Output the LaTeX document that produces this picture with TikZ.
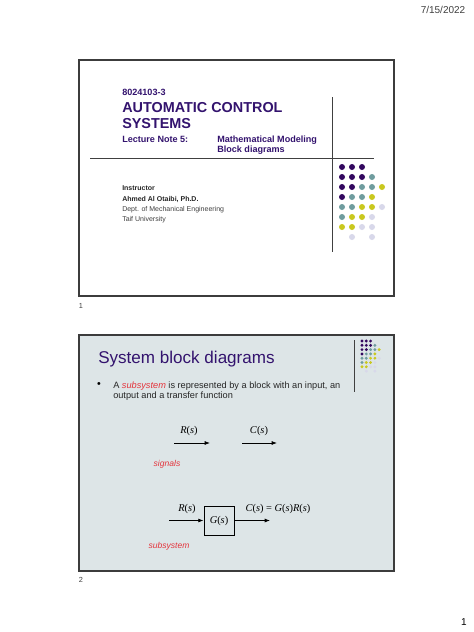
\documentclass[tikz,border=0pt]{standalone}
\usepackage{fontspec}
\setmainfont{Liberation Sans}
\newfontfamily\timesfont{Liberation Serif}
\usetikzlibrary{arrows.meta}

\definecolor{slidepurple}{HTML}{33136E}
\definecolor{dotP}{HTML}{33085F}
\definecolor{dotT}{HTML}{6F9C9E}
\definecolor{dotY}{HTML}{C9C81F}
\definecolor{dotL}{HTML}{D8D8EA}
\definecolor{framegray}{HTML}{3C3C3C}
\definecolor{slidebg}{HTML}{DDE5E7}
\definecolor{accentred}{HTML}{E4343C}
\definecolor{bodygray}{HTML}{404040}

% x, y, spacing, radius
\newcommand{\slidedots}[4]{%
  \foreach \c/\r/\dc in {0/0/dotP,1/0/dotP,2/0/dotP,
    0/1/dotP,1/1/dotP,2/1/dotP,3/1/dotT,
    0/2/dotP,1/2/dotP,2/2/dotT,3/2/dotT,4/2/dotY,
    0/3/dotP,1/3/dotT,2/3/dotT,3/3/dotY,
    0/4/dotT,1/4/dotT,2/4/dotY,3/4/dotY,4/4/dotL,
    0/5/dotT,1/5/dotY,2/5/dotY,3/5/dotL,
    0/6/dotY,1/6/dotY,2/6/dotL,3/6/dotL,
    1/7/dotL,3/7/dotL}
    {\fill[\dc] (#1+\c*#3,#2+\r*#3) circle (#4);}}
\newcommand{\sig}[1]{\textit{#1}(\textit{s})}

\begin{document}
\begin{tikzpicture}[x=0.75pt,y=-0.75pt]
  \path[use as bounding box] (0,0) rectangle (474,632);
  \fill[white] (0,0) rectangle (474,632);

  \tikzset{frame/.style={draw=framegray,line width=0.9pt},
    rule/.style={draw=bodygray,line width=0.7pt},
    txt/.style={anchor=base west,inner sep=0pt},
    sigarrow/.style={-{Latex[length=4pt,width=3pt]},line width=0.6pt},
    block/.style={draw,line width=0.6pt,minimum width=22.5pt,minimum height=21.75pt,
      inner sep=0pt,font=\timesfont\fontsize{7.8}{9}\selectfont},
    sigtext/.style={anchor=base,inner sep=0pt,font=\timesfont\fontsize{7.8}{9}\selectfont},
    pagenum/.style={font=\fontsize{5.5}{6}\selectfont,text=bodygray},
    redlabel/.style={anchor=base,inner sep=0pt,font=\fontsize{6.4}{7}\selectfont\itshape,text=accentred}}

  \node[font=\fontsize{7.5}{8}\selectfont,text=bodygray] (date) at (443,10) {7/15/2022};
  \node[font=\fontsize{7.5}{8}\selectfont] (pageno) at (464,622) {1};

  % slide 1
  \draw[frame] (79,60) rectangle (394,296);
  \node[pagenum] (num1) at (81,306) {1};
  \draw[rule] (90,158) -- (374,158);
  \draw[rule] (332,97) -- (332,252);
  \slidedots{342}{167}{10}{2.25pt}

  \node[txt,font=\bfseries\fontsize{6.8}{8}\selectfont,text=slidepurple] (course) at (122,95) {8024103-3};
  \node[txt,font=\bfseries\fontsize{10.8}{12}\selectfont,text=slidepurple] (title1) at (122,112) {AUTOMATIC CONTROL};
  \node[txt,font=\bfseries\fontsize{10.8}{12}\selectfont,text=slidepurple] (title2) at (122,128) {SYSTEMS};
  \node[txt,font=\bfseries\fontsize{6.8}{8}\selectfont,text=slidepurple] (lecture) at (122,142) {Lecture Note 5:};
  \node[txt,font=\bfseries\fontsize{6.8}{8}\selectfont,text=slidepurple] (topic1) at (217,142) {Mathematical Modeling};
  \node[txt,font=\bfseries\fontsize{6.8}{8}\selectfont,text=slidepurple] (topic2) at (217,152) {Block diagrams};

  \node[txt,font=\bfseries\fontsize{5.25}{6}\selectfont,text=black!85] (instr) at (122,190.5) {Instructor};
  \node[txt,font=\bfseries\fontsize{5.25}{6}\selectfont,text=black!85] (name) at (122,201.5) {Ahmed Al Otaibi, Ph.D.};
  \node[txt,font=\fontsize{5.25}{6}\selectfont,text=bodygray] (dept) at (122,211.5) {Dept. of Mechanical Engineering};
  \node[txt,font=\fontsize{5.25}{6}\selectfont,text=bodygray] (univ) at (122,221.5) {Taif University};

  % slide 2
  \draw[frame,fill=slidebg] (79,335) rectangle (394,571);
  \node[pagenum] (num2) at (81,580) {2};
  \draw[rule] (354,340) -- (354,392);
  \slidedots{362}{341}{4.3}{1.2pt}

  \node[txt,font=\fontsize{12.8}{14}\selectfont,text=slidepurple] (title) at (98,363) {System block diagrams};
  \node[font=\fontsize{8}{8}\selectfont,inner sep=0pt] (bullet) at (99,385.5) {•};
  \node[txt,font=\fontsize{6.9}{8}\selectfont,text=black!85] (line1) at (113,388)
    {A \textcolor{accentred}{\itshape subsystem} is represented by a block with an input, an};
  \node[txt,font=\fontsize{6.9}{8}\selectfont,text=black!85] (line2) at (113,398)
    {output and a transfer function};

  \node[sigtext] (Rlab) at (189,433.5) {\sig{R}};
  \node[sigtext] (Clab) at (259,433.5) {\sig{C}};
  \coordinate (Rstart) at (174,443);
  \coordinate (Rend) at (210,443);
  \coordinate (Cstart) at (242,443);
  \coordinate (Cend) at (277,443);
  \draw[sigarrow] (Rstart) -- (Rend);
  \draw[sigarrow] (Cstart) -- (Cend);
  \node[redlabel] (signals) at (167,466) {signals};

  \node[block] (G) at (219,520.5) {\sig{G}};
  \coordinate (input) at (169,520.5);
  \coordinate (output) at (270,520.5);
  \draw[sigarrow] (input) -- (G.west);
  \draw[sigarrow] (G.east) -- (output);
  \node[sigtext] (Rin) at (187,511.5) {\sig{R}};
  \node[sigtext] (Cout) at (278,511.5) {\sig{C} = \sig{G}\sig{R}};
  \node[redlabel] (sublab) at (169,548) {subsystem};
\end{tikzpicture}
\end{document}
